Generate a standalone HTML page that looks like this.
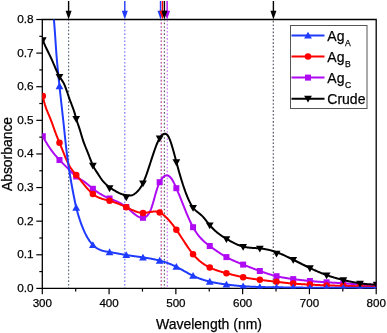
<!DOCTYPE html>
<html><head><meta charset="utf-8"><style>
html,body{margin:0;padding:0;background:#fff;}
body{width:387px;height:333px;position:relative;overflow:hidden;font-family:"Liberation Sans",sans-serif;color:#000;}
.t{position:absolute;left:0;top:0;width:387px;height:333px;will-change:transform;opacity:0.999;-webkit-text-stroke:0.25px #000;}
svg{position:absolute;left:0;top:0;}
.yl{position:absolute;left:0;width:33.6px;text-align:right;font-size:11.8px;line-height:13px;}
.xl{position:absolute;top:295.5px;width:40px;text-align:center;font-size:11.6px;line-height:13px;}
.lg{position:absolute;left:327.3px;font-size:14px;line-height:16px;}
.lg sub{font-size:8.6px;vertical-align:-5px;line-height:0;margin-left:0.5px;}
#xt{position:absolute;left:0;width:418px;top:316.3px;text-align:center;font-size:14px;line-height:16px;}
#yt{position:absolute;left:-43px;top:146px;width:100px;text-align:center;font-size:13.9px;line-height:16px;transform:rotate(-90deg);}
</style></head><body>
<svg width="387" height="333" viewBox="0 0 387 333">
<defs><clipPath id="clip"><rect x="42.3" y="19.5" width="333.9" height="268.9"/></clipPath></defs>
<line x1="68.6" y1="19.0" x2="68.6" y2="288.4" stroke="#606a80" stroke-width="1.2" stroke-dasharray="1.6,1.98" opacity="1"/>
<line x1="124.8" y1="19.0" x2="124.8" y2="288.4" stroke="#7777ff" stroke-width="1.2" stroke-dasharray="1.6,1.98" opacity="1"/>
<line x1="161.2" y1="19.0" x2="161.2" y2="288.4" stroke="#7777ff" stroke-width="1.2" stroke-dasharray="1.6,1.98" opacity="1"/>
<line x1="161.4" y1="19.0" x2="161.4" y2="288.4" stroke="#ff5050" stroke-width="1.2" stroke-dasharray="1.6,1.98" opacity="0.65"/>
<line x1="164.4" y1="19.0" x2="164.4" y2="288.4" stroke="#606468" stroke-width="1.2" stroke-dasharray="1.6,1.98" opacity="1"/>
<line x1="167.3" y1="20.2" x2="167.3" y2="288.4" stroke="#cc77ff" stroke-width="1.2" stroke-dasharray="1.6,1.98" opacity="1"/>
<line x1="273.3" y1="20.8" x2="273.3" y2="288.4" stroke="#505660" stroke-width="1.2" stroke-dasharray="1.6,1.98" opacity="1"/>
<path d="M42.3,19.5 H376.2 V288.4 H42.3 Z" fill="none" stroke="#000" stroke-width="1.3"/>
<g clip-path="url(#clip)">
<path d="M42.80,136.20 L43.30,137.15 L43.80,138.09 L44.30,139.01 L44.80,139.91 L45.30,140.79 L45.80,141.65 L46.30,142.50 L46.80,143.33 L47.30,144.15 L47.80,144.94 L48.30,145.73 L48.80,146.50 L49.30,147.25 L49.80,147.99 L50.30,148.71 L50.80,149.43 L51.30,150.12 L51.80,150.81 L52.30,151.48 L52.80,152.14 L53.30,152.79 L53.80,153.43 L54.30,154.05 L54.80,154.67 L55.30,155.28 L55.80,155.87 L56.30,156.46 L56.80,157.03 L57.30,157.60 L57.80,158.16 L58.30,158.71 L58.80,159.26 L59.30,159.79 L59.80,160.32 L60.30,160.85 L60.80,161.36 L61.30,161.87 L61.80,162.38 L62.30,162.89 L62.80,163.39 L63.30,163.89 L63.80,164.39 L64.30,164.88 L64.80,165.38 L65.30,165.88 L65.80,166.38 L66.30,166.88 L66.80,167.39 L67.30,167.90 L67.80,168.41 L68.30,168.93 L68.80,169.45 L69.30,169.97 L69.80,170.49 L70.30,171.00 L70.80,171.52 L71.30,172.03 L71.80,172.53 L72.30,173.03 L72.80,173.52 L73.30,173.99 L73.80,174.46 L74.30,174.92 L74.80,175.36 L75.30,175.78 L75.80,176.19 L76.30,176.58 L76.80,176.96 L77.30,177.32 L77.80,177.66 L78.30,177.99 L78.80,178.31 L79.30,178.63 L79.80,178.93 L80.30,179.24 L80.80,179.54 L81.30,179.84 L81.80,180.14 L82.30,180.45 L82.80,180.77 L83.30,181.09 L83.80,181.42 L84.30,181.77 L84.80,182.13 L85.30,182.50 L85.80,182.89 L86.30,183.28 L86.80,183.69 L87.30,184.10 L87.80,184.51 L88.30,184.94 L88.80,185.36 L89.30,185.79 L89.80,186.22 L90.30,186.64 L90.80,187.07 L91.30,187.49 L91.80,187.91 L92.30,188.33 L92.80,188.73 L93.30,189.13 L93.80,189.52 L94.30,189.90 L94.80,190.27 L95.30,190.64 L95.80,191.00 L96.30,191.35 L96.80,191.69 L97.30,192.03 L97.80,192.36 L98.30,192.68 L98.80,192.99 L99.30,193.30 L99.80,193.61 L100.30,193.90 L100.80,194.19 L101.30,194.48 L101.80,194.76 L102.30,195.03 L102.80,195.30 L103.30,195.56 L103.80,195.82 L104.30,196.07 L104.80,196.32 L105.30,196.57 L105.80,196.81 L106.30,197.04 L106.80,197.27 L107.30,197.50 L107.80,197.73 L108.30,197.95 L108.80,198.17 L109.30,198.38 L109.80,198.59 L110.30,198.80 L110.80,199.01 L111.30,199.21 L111.80,199.42 L112.30,199.62 L112.80,199.83 L113.30,200.03 L113.80,200.23 L114.30,200.44 L114.80,200.65 L115.30,200.86 L115.80,201.07 L116.30,201.28 L116.80,201.50 L117.30,201.73 L117.80,201.96 L118.30,202.19 L118.80,202.43 L119.30,202.67 L119.80,202.92 L120.30,203.18 L120.80,203.45 L121.30,203.72 L121.80,204.01 L122.30,204.30 L122.80,204.60 L123.30,204.91 L123.80,205.23 L124.30,205.57 L124.80,205.91 L125.30,206.27 L125.80,206.64 L126.30,207.02 L126.80,207.41 L127.30,207.82 L127.80,208.24 L128.30,208.66 L128.80,209.10 L129.30,209.53 L129.80,209.98 L130.30,210.42 L130.80,210.87 L131.30,211.31 L131.80,211.76 L132.30,212.19 L132.80,212.63 L133.30,213.05 L133.80,213.47 L134.30,213.88 L134.80,214.28 L135.30,214.66 L135.80,215.03 L136.30,215.39 L136.80,215.72 L137.30,216.04 L137.80,216.33 L138.30,216.61 L138.80,216.86 L139.30,217.08 L139.80,217.28 L140.30,217.45 L140.80,217.59 L141.30,217.69 L141.80,217.77 L142.30,217.81 L142.80,217.81 L143.30,217.77 L143.80,217.70 L144.30,217.57 L144.80,217.40 L145.30,217.17 L145.80,216.88 L146.30,216.52 L146.80,216.09 L147.30,215.59 L147.80,215.01 L148.30,214.34 L148.80,213.58 L149.30,212.73 L149.80,211.78 L150.30,210.73 L150.80,209.57 L151.30,208.29 L151.80,206.90 L152.30,205.38 L152.80,203.75 L153.30,202.03 L153.80,200.25 L154.30,198.43 L154.80,196.61 L155.30,194.81 L155.80,193.05 L156.30,191.37 L156.80,189.76 L157.30,188.23 L157.80,186.78 L158.30,185.42 L158.80,184.16 L159.30,182.99 L159.80,181.92 L160.30,180.96 L160.80,180.10 L161.30,179.32 L161.80,178.63 L162.30,178.02 L162.80,177.48 L163.30,177.00 L163.80,176.58 L164.30,176.22 L164.80,175.92 L165.30,175.68 L165.80,175.51 L166.30,175.41 L166.80,175.37 L167.30,175.41 L167.80,175.53 L168.30,175.72 L168.80,175.98 L169.30,176.32 L169.80,176.73 L170.30,177.22 L170.80,177.79 L171.30,178.43 L171.80,179.15 L172.30,179.94 L172.80,180.79 L173.30,181.70 L173.80,182.66 L174.30,183.67 L174.80,184.72 L175.30,185.81 L175.80,186.92 L176.30,188.06 L176.80,189.22 L177.30,190.39 L177.80,191.58 L178.30,192.78 L178.80,193.99 L179.30,195.21 L179.80,196.44 L180.30,197.68 L180.80,198.92 L181.30,200.17 L181.80,201.42 L182.30,202.67 L182.80,203.92 L183.30,205.17 L183.80,206.42 L184.30,207.66 L184.80,208.90 L185.30,210.13 L185.80,211.35 L186.30,212.56 L186.80,213.76 L187.30,214.95 L187.80,216.12 L188.30,217.28 L188.80,218.42 L189.30,219.54 L189.80,220.64 L190.30,221.71 L190.80,222.77 L191.30,223.80 L191.80,224.80 L192.30,225.78 L192.80,226.73 L193.30,227.65 L193.80,228.53 L194.30,229.39 L194.80,230.22 L195.30,231.02 L195.80,231.79 L196.30,232.54 L196.80,233.26 L197.30,233.96 L197.80,234.63 L198.30,235.28 L198.80,235.91 L199.30,236.52 L199.80,237.11 L200.30,237.68 L200.80,238.23 L201.30,238.76 L201.80,239.28 L202.30,239.78 L202.80,240.27 L203.30,240.74 L203.80,241.20 L204.30,241.65 L204.80,242.09 L205.30,242.51 L205.80,242.93 L206.30,243.34 L206.80,243.74 L207.30,244.13 L207.80,244.52 L208.30,244.91 L208.80,245.29 L209.30,245.66 L209.80,246.04 L210.30,246.41 L210.80,246.78 L211.30,247.15 L211.80,247.52 L212.30,247.88 L212.80,248.25 L213.30,248.61 L213.80,248.97 L214.30,249.33 L214.80,249.68 L215.30,250.04 L215.80,250.39 L216.30,250.73 L216.80,251.08 L217.30,251.42 L217.80,251.76 L218.30,252.10 L218.80,252.43 L219.30,252.76 L219.80,253.09 L220.30,253.41 L220.80,253.74 L221.30,254.05 L221.80,254.37 L222.30,254.68 L222.80,254.98 L223.30,255.29 L223.80,255.59 L224.30,255.88 L224.80,256.17 L225.30,256.46 L225.80,256.74 L226.30,257.02 L226.80,257.29 L227.30,257.56 L227.80,257.83 L228.30,258.09 L228.80,258.35 L229.30,258.60 L229.80,258.85 L230.30,259.10 L230.80,259.34 L231.30,259.58 L231.80,259.82 L232.30,260.05 L232.80,260.28 L233.30,260.51 L233.80,260.73 L234.30,260.95 L234.80,261.17 L235.30,261.39 L235.80,261.61 L236.30,261.82 L236.80,262.03 L237.30,262.24 L237.80,262.45 L238.30,262.65 L238.80,262.86 L239.30,263.06 L239.80,263.27 L240.30,263.47 L240.80,263.67 L241.30,263.87 L241.80,264.07 L242.30,264.27 L242.80,264.47 L243.30,264.66 L243.80,264.86 L244.30,265.06 L244.80,265.26 L245.30,265.45 L245.80,265.65 L246.30,265.85 L246.80,266.05 L247.30,266.24 L247.80,266.44 L248.30,266.63 L248.80,266.83 L249.30,267.02 L249.80,267.22 L250.30,267.41 L250.80,267.61 L251.30,267.80 L251.80,267.99 L252.30,268.18 L252.80,268.38 L253.30,268.57 L253.80,268.76 L254.30,268.95 L254.80,269.14 L255.30,269.33 L255.80,269.51 L256.30,269.70 L256.80,269.89 L257.30,270.07 L257.80,270.26 L258.30,270.44 L258.80,270.62 L259.30,270.81 L259.80,270.99 L260.30,271.17 L260.80,271.35 L261.30,271.53 L261.80,271.70 L262.30,271.88 L262.80,272.06 L263.30,272.23 L263.80,272.40 L264.30,272.57 L264.80,272.74 L265.30,272.91 L265.80,273.08 L266.30,273.24 L266.80,273.41 L267.30,273.57 L267.80,273.73 L268.30,273.89 L268.80,274.05 L269.30,274.20 L269.80,274.36 L270.30,274.51 L270.80,274.66 L271.30,274.80 L271.80,274.95 L272.30,275.09 L272.80,275.23 L273.30,275.37 L273.80,275.50 L274.30,275.64 L274.80,275.77 L275.30,275.90 L275.80,276.02 L276.30,276.14 L276.80,276.26 L277.30,276.38 L277.80,276.50 L278.30,276.61 L278.80,276.72 L279.30,276.83 L279.80,276.93 L280.30,277.03 L280.80,277.13 L281.30,277.23 L281.80,277.33 L282.30,277.42 L282.80,277.51 L283.30,277.60 L283.80,277.69 L284.30,277.78 L284.80,277.86 L285.30,277.95 L285.80,278.03 L286.30,278.11 L286.80,278.19 L287.30,278.26 L287.80,278.34 L288.30,278.42 L288.80,278.49 L289.30,278.56 L289.80,278.63 L290.30,278.70 L290.80,278.77 L291.30,278.84 L291.80,278.91 L292.30,278.98 L292.80,279.04 L293.30,279.11 L293.80,279.18 L294.30,279.24 L294.80,279.30 L295.30,279.37 L295.80,279.43 L296.30,279.50 L296.80,279.56 L297.30,279.62 L297.80,279.68 L298.30,279.74 L298.80,279.80 L299.30,279.86 L299.80,279.92 L300.30,279.98 L300.80,280.04 L301.30,280.09 L301.80,280.15 L302.30,280.21 L302.80,280.26 L303.30,280.32 L303.80,280.37 L304.30,280.43 L304.80,280.48 L305.30,280.54 L305.80,280.59 L306.30,280.64 L306.80,280.69 L307.30,280.74 L307.80,280.79 L308.30,280.84 L308.80,280.89 L309.30,280.94 L309.80,280.99 L310.30,281.04 L310.80,281.08 L311.30,281.13 L311.80,281.18 L312.30,281.22 L312.80,281.26 L313.30,281.31 L313.80,281.35 L314.30,281.40 L314.80,281.44 L315.30,281.48 L315.80,281.52 L316.30,281.56 L316.80,281.60 L317.30,281.64 L317.80,281.68 L318.30,281.72 L318.80,281.76 L319.30,281.80 L319.80,281.83 L320.30,281.87 L320.80,281.91 L321.30,281.94 L321.80,281.98 L322.30,282.02 L322.80,282.05 L323.30,282.08 L323.80,282.12 L324.30,282.15 L324.80,282.18 L325.30,282.22 L325.80,282.25 L326.30,282.28 L326.80,282.31 L327.30,282.34 L327.80,282.37 L328.30,282.40 L328.80,282.43 L329.30,282.46 L329.80,282.49 L330.30,282.52 L330.80,282.55 L331.30,282.58 L331.80,282.61 L332.30,282.64 L332.80,282.66 L333.30,282.69 L333.80,282.72 L334.30,282.75 L334.80,282.78 L335.30,282.81 L335.80,282.83 L336.30,282.86 L336.80,282.89 L337.30,282.92 L337.80,282.95 L338.30,282.98 L338.80,283.01 L339.30,283.04 L339.80,283.07 L340.30,283.10 L340.80,283.13 L341.30,283.17 L341.80,283.20 L342.30,283.23 L342.80,283.27 L343.30,283.30 L343.80,283.33 L344.30,283.37 L344.80,283.40 L345.30,283.44 L345.80,283.48 L346.30,283.51 L346.80,283.55 L347.30,283.59 L347.80,283.63 L348.30,283.67 L348.80,283.71 L349.30,283.75 L349.80,283.78 L350.30,283.82 L350.80,283.86 L351.30,283.90 L351.80,283.94 L352.30,283.99 L352.80,284.03 L353.30,284.07 L353.80,284.11 L354.30,284.15 L354.80,284.19 L355.30,284.23 L355.80,284.27 L356.30,284.31 L356.80,284.35 L357.30,284.39 L357.80,284.43 L358.30,284.47 L358.80,284.51 L359.30,284.55 L359.80,284.58 L360.30,284.62 L360.80,284.66 L361.30,284.70 L361.80,284.73 L362.30,284.77 L362.80,284.81 L363.30,284.84 L363.80,284.88 L364.30,284.91 L364.80,284.95 L365.30,284.98 L365.80,285.01 L366.30,285.04 L366.80,285.07 L367.30,285.11 L367.80,285.13 L368.30,285.16 L368.80,285.19 L369.30,285.22 L369.80,285.24 L370.30,285.27 L370.80,285.29 L371.30,285.32 L371.80,285.34 L372.30,285.36 L372.80,285.38 L373.30,285.40 L373.80,285.42 L374.30,285.44 L374.80,285.45 L375.30,285.47 L375.80,285.48 L376.30,285.49 L376.70,285.50" fill="none" stroke="#b00af5" stroke-width="2.0" stroke-linejoin="round" stroke-linecap="round"/>
<rect x="39.80" y="133.20" width="6" height="6" fill="#b00af5"/>
<rect x="56.49" y="157.00" width="6" height="6" fill="#b00af5"/>
<rect x="73.19" y="173.50" width="6" height="6" fill="#b00af5"/>
<rect x="89.88" y="185.80" width="6" height="6" fill="#b00af5"/>
<rect x="106.58" y="195.50" width="6" height="6" fill="#b00af5"/>
<rect x="123.27" y="204.00" width="6" height="6" fill="#b00af5"/>
<rect x="139.97" y="214.80" width="6" height="6" fill="#b00af5"/>
<rect x="156.66" y="179.20" width="6" height="6" fill="#b00af5"/>
<rect x="173.36" y="185.20" width="6" height="6" fill="#b00af5"/>
<rect x="190.06" y="224.20" width="6" height="6" fill="#b00af5"/>
<rect x="206.75" y="243.00" width="6" height="6" fill="#b00af5"/>
<rect x="223.44" y="254.10" width="6" height="6" fill="#b00af5"/>
<rect x="240.14" y="261.60" width="6" height="6" fill="#b00af5"/>
<rect x="256.83" y="268.00" width="6" height="6" fill="#b00af5"/>
<rect x="273.53" y="273.20" width="6" height="6" fill="#b00af5"/>
<rect x="290.22" y="276.10" width="6" height="6" fill="#b00af5"/>
<rect x="306.92" y="278.00" width="6" height="6" fill="#b00af5"/>
<rect x="323.62" y="279.30" width="6" height="6" fill="#b00af5"/>
<rect x="340.31" y="280.30" width="6" height="6" fill="#b00af5"/>
<rect x="357.00" y="281.60" width="6" height="6" fill="#b00af5"/>
<rect x="373.70" y="282.50" width="6" height="6" fill="#b00af5"/>
<path d="M42.80,96.00 L43.30,98.34 L43.80,100.48 L44.30,102.44 L44.80,104.24 L45.30,105.89 L45.80,107.42 L46.30,108.84 L46.80,110.17 L47.30,111.43 L47.80,112.64 L48.30,113.81 L48.80,114.96 L49.30,116.12 L49.80,117.29 L50.30,118.50 L50.80,119.76 L51.30,121.07 L51.80,122.41 L52.30,123.78 L52.80,125.18 L53.30,126.58 L53.80,127.99 L54.30,129.40 L54.80,130.79 L55.30,132.16 L55.80,133.50 L56.30,134.80 L56.80,136.08 L57.30,137.33 L57.80,138.56 L58.30,139.78 L58.80,141.00 L59.30,142.22 L59.80,143.45 L60.30,144.70 L60.80,145.95 L61.30,147.21 L61.80,148.47 L62.30,149.73 L62.80,150.99 L63.30,152.24 L63.80,153.48 L64.30,154.71 L64.80,155.92 L65.30,157.11 L65.80,158.27 L66.30,159.42 L66.80,160.53 L67.30,161.61 L67.80,162.65 L68.30,163.66 L68.80,164.63 L69.30,165.55 L69.80,166.42 L70.30,167.24 L70.80,168.03 L71.30,168.77 L71.80,169.48 L72.30,170.16 L72.80,170.82 L73.30,171.45 L73.80,172.07 L74.30,172.67 L74.80,173.26 L75.30,173.85 L75.80,174.44 L76.30,175.03 L76.80,175.63 L77.30,176.23 L77.80,176.84 L78.30,177.46 L78.80,178.07 L79.30,178.69 L79.80,179.32 L80.30,179.94 L80.80,180.57 L81.30,181.20 L81.80,181.82 L82.30,182.45 L82.80,183.07 L83.30,183.69 L83.80,184.31 L84.30,184.92 L84.80,185.53 L85.30,186.14 L85.80,186.73 L86.30,187.32 L86.80,187.90 L87.30,188.48 L87.80,189.04 L88.30,189.59 L88.80,190.13 L89.30,190.66 L89.80,191.18 L90.30,191.68 L90.80,192.16 L91.30,192.63 L91.80,193.08 L92.30,193.52 L92.80,193.93 L93.30,194.33 L93.80,194.70 L94.30,195.06 L94.80,195.40 L95.30,195.73 L95.80,196.03 L96.30,196.32 L96.80,196.60 L97.30,196.86 L97.80,197.11 L98.30,197.35 L98.80,197.57 L99.30,197.78 L99.80,197.98 L100.30,198.17 L100.80,198.36 L101.30,198.53 L101.80,198.70 L102.30,198.85 L102.80,199.01 L103.30,199.15 L103.80,199.30 L104.30,199.43 L104.80,199.57 L105.30,199.70 L105.80,199.83 L106.30,199.95 L106.80,200.08 L107.30,200.21 L107.80,200.33 L108.30,200.46 L108.80,200.59 L109.30,200.72 L109.80,200.86 L110.30,201.00 L110.80,201.15 L111.30,201.29 L111.80,201.45 L112.30,201.60 L112.80,201.76 L113.30,201.92 L113.80,202.09 L114.30,202.26 L114.80,202.43 L115.30,202.61 L115.80,202.79 L116.30,202.97 L116.80,203.16 L117.30,203.34 L117.80,203.54 L118.30,203.73 L118.80,203.93 L119.30,204.13 L119.80,204.33 L120.30,204.54 L120.80,204.75 L121.30,204.96 L121.80,205.18 L122.30,205.39 L122.80,205.61 L123.30,205.83 L123.80,206.06 L124.30,206.28 L124.80,206.51 L125.30,206.74 L125.80,206.98 L126.30,207.21 L126.80,207.45 L127.30,207.69 L127.80,207.93 L128.30,208.17 L128.80,208.41 L129.30,208.65 L129.80,208.88 L130.30,209.12 L130.80,209.35 L131.30,209.59 L131.80,209.81 L132.30,210.04 L132.80,210.26 L133.30,210.47 L133.80,210.68 L134.30,210.88 L134.80,211.08 L135.30,211.27 L135.80,211.45 L136.30,211.63 L136.80,211.79 L137.30,211.95 L137.80,212.09 L138.30,212.23 L138.80,212.35 L139.30,212.47 L139.80,212.57 L140.30,212.66 L140.80,212.73 L141.30,212.80 L141.80,212.84 L142.30,212.88 L142.80,212.90 L143.30,212.90 L143.80,212.89 L144.30,212.86 L144.80,212.83 L145.30,212.78 L145.80,212.72 L146.30,212.65 L146.80,212.58 L147.30,212.50 L147.80,212.42 L148.30,212.33 L148.80,212.24 L149.30,212.15 L149.80,212.06 L150.30,211.98 L150.80,211.90 L151.30,211.82 L151.80,211.75 L152.30,211.69 L152.80,211.63 L153.30,211.59 L153.80,211.56 L154.30,211.54 L154.80,211.53 L155.30,211.54 L155.80,211.57 L156.30,211.62 L156.80,211.68 L157.30,211.77 L157.80,211.88 L158.30,212.01 L158.80,212.17 L159.30,212.35 L159.80,212.56 L160.30,212.80 L160.80,213.06 L161.30,213.36 L161.80,213.67 L162.30,214.01 L162.80,214.38 L163.30,214.76 L163.80,215.17 L164.30,215.59 L164.80,216.04 L165.30,216.50 L165.80,216.98 L166.30,217.47 L166.80,217.98 L167.30,218.49 L167.80,219.03 L168.30,219.57 L168.80,220.12 L169.30,220.69 L169.80,221.27 L170.30,221.85 L170.80,222.45 L171.30,223.06 L171.80,223.68 L172.30,224.31 L172.80,224.95 L173.30,225.60 L173.80,226.26 L174.30,226.93 L174.80,227.61 L175.30,228.31 L175.80,229.00 L176.30,229.71 L176.80,230.43 L177.30,231.16 L177.80,231.89 L178.30,232.64 L178.80,233.39 L179.30,234.14 L179.80,234.90 L180.30,235.66 L180.80,236.43 L181.30,237.20 L181.80,237.97 L182.30,238.74 L182.80,239.51 L183.30,240.28 L183.80,241.05 L184.30,241.82 L184.80,242.59 L185.30,243.35 L185.80,244.11 L186.30,244.87 L186.80,245.61 L187.30,246.36 L187.80,247.09 L188.30,247.82 L188.80,248.54 L189.30,249.25 L189.80,249.95 L190.30,250.63 L190.80,251.31 L191.30,251.98 L191.80,252.63 L192.30,253.27 L192.80,253.89 L193.30,254.50 L193.80,255.09 L194.30,255.67 L194.80,256.23 L195.30,256.77 L195.80,257.31 L196.30,257.83 L196.80,258.33 L197.30,258.82 L197.80,259.30 L198.30,259.77 L198.80,260.22 L199.30,260.66 L199.80,261.09 L200.30,261.50 L200.80,261.91 L201.30,262.30 L201.80,262.68 L202.30,263.05 L202.80,263.41 L203.30,263.76 L203.80,264.10 L204.30,264.43 L204.80,264.76 L205.30,265.07 L205.80,265.37 L206.30,265.67 L206.80,265.96 L207.30,266.24 L207.80,266.51 L208.30,266.77 L208.80,267.03 L209.30,267.28 L209.80,267.52 L210.30,267.76 L210.80,267.99 L211.30,268.22 L211.80,268.44 L212.30,268.66 L212.80,268.87 L213.30,269.07 L213.80,269.27 L214.30,269.46 L214.80,269.65 L215.30,269.84 L215.80,270.02 L216.30,270.20 L216.80,270.37 L217.30,270.54 L217.80,270.71 L218.30,270.87 L218.80,271.03 L219.30,271.19 L219.80,271.34 L220.30,271.49 L220.80,271.64 L221.30,271.79 L221.80,271.93 L222.30,272.07 L222.80,272.21 L223.30,272.35 L223.80,272.49 L224.30,272.63 L224.80,272.76 L225.30,272.90 L225.80,273.03 L226.30,273.16 L226.80,273.29 L227.30,273.43 L227.80,273.56 L228.30,273.69 L228.80,273.82 L229.30,273.95 L229.80,274.08 L230.30,274.21 L230.80,274.34 L231.30,274.47 L231.80,274.59 L232.30,274.72 L232.80,274.85 L233.30,274.97 L233.80,275.10 L234.30,275.22 L234.80,275.34 L235.30,275.46 L235.80,275.58 L236.30,275.70 L236.80,275.82 L237.30,275.94 L237.80,276.05 L238.30,276.17 L238.80,276.28 L239.30,276.39 L239.80,276.50 L240.30,276.61 L240.80,276.72 L241.30,276.82 L241.80,276.93 L242.30,277.03 L242.80,277.13 L243.30,277.23 L243.80,277.33 L244.30,277.43 L244.80,277.52 L245.30,277.61 L245.80,277.70 L246.30,277.79 L246.80,277.88 L247.30,277.97 L247.80,278.06 L248.30,278.14 L248.80,278.22 L249.30,278.30 L249.80,278.38 L250.30,278.46 L250.80,278.54 L251.30,278.62 L251.80,278.69 L252.30,278.77 L252.80,278.84 L253.30,278.92 L253.80,278.99 L254.30,279.06 L254.80,279.13 L255.30,279.20 L255.80,279.27 L256.30,279.34 L256.80,279.40 L257.30,279.47 L257.80,279.54 L258.30,279.60 L258.80,279.67 L259.30,279.73 L259.80,279.80 L260.30,279.86 L260.80,279.92 L261.30,279.99 L261.80,280.05 L262.30,280.11 L262.80,280.17 L263.30,280.23 L263.80,280.29 L264.30,280.36 L264.80,280.42 L265.30,280.48 L265.80,280.54 L266.30,280.60 L266.80,280.66 L267.30,280.72 L267.80,280.77 L268.30,280.83 L268.80,280.89 L269.30,280.95 L269.80,281.01 L270.30,281.07 L270.80,281.13 L271.30,281.19 L271.80,281.25 L272.30,281.30 L272.80,281.36 L273.30,281.42 L273.80,281.48 L274.30,281.54 L274.80,281.60 L275.30,281.66 L275.80,281.71 L276.30,281.77 L276.80,281.83 L277.30,281.89 L277.80,281.95 L278.30,282.01 L278.80,282.07 L279.30,282.13 L279.80,282.19 L280.30,282.25 L280.80,282.30 L281.30,282.36 L281.80,282.42 L282.30,282.48 L282.80,282.54 L283.30,282.59 L283.80,282.65 L284.30,282.71 L284.80,282.76 L285.30,282.82 L285.80,282.87 L286.30,282.93 L286.80,282.98 L287.30,283.03 L287.80,283.09 L288.30,283.14 L288.80,283.19 L289.30,283.24 L289.80,283.29 L290.30,283.34 L290.80,283.38 L291.30,283.43 L291.80,283.48 L292.30,283.52 L292.80,283.56 L293.30,283.61 L293.80,283.65 L294.30,283.69 L294.80,283.73 L295.30,283.76 L295.80,283.80 L296.30,283.84 L296.80,283.87 L297.30,283.91 L297.80,283.94 L298.30,283.97 L298.80,284.00 L299.30,284.03 L299.80,284.06 L300.30,284.09 L300.80,284.12 L301.30,284.15 L301.80,284.18 L302.30,284.21 L302.80,284.24 L303.30,284.26 L303.80,284.29 L304.30,284.31 L304.80,284.34 L305.30,284.37 L305.80,284.39 L306.30,284.42 L306.80,284.44 L307.30,284.47 L307.80,284.49 L308.30,284.52 L308.80,284.54 L309.30,284.57 L309.80,284.59 L310.30,284.62 L310.80,284.65 L311.30,284.67 L311.80,284.70 L312.30,284.72 L312.80,284.75 L313.30,284.78 L313.80,284.80 L314.30,284.83 L314.80,284.85 L315.30,284.88 L315.80,284.91 L316.30,284.93 L316.80,284.96 L317.30,284.98 L317.80,285.01 L318.30,285.03 L318.80,285.06 L319.30,285.08 L319.80,285.11 L320.30,285.13 L320.80,285.16 L321.30,285.18 L321.80,285.20 L322.30,285.23 L322.80,285.25 L323.30,285.27 L323.80,285.29 L324.30,285.31 L324.80,285.33 L325.30,285.35 L325.80,285.37 L326.30,285.39 L326.80,285.41 L327.30,285.42 L327.80,285.44 L328.30,285.46 L328.80,285.47 L329.30,285.49 L329.80,285.50 L330.30,285.51 L330.80,285.53 L331.30,285.54 L331.80,285.55 L332.30,285.57 L332.80,285.58 L333.30,285.59 L333.80,285.60 L334.30,285.61 L334.80,285.62 L335.30,285.63 L335.80,285.64 L336.30,285.65 L336.80,285.66 L337.30,285.67 L337.80,285.68 L338.30,285.69 L338.80,285.70 L339.30,285.71 L339.80,285.72 L340.30,285.73 L340.80,285.74 L341.30,285.76 L341.80,285.77 L342.30,285.78 L342.80,285.79 L343.30,285.80 L343.80,285.81 L344.30,285.82 L344.80,285.84 L345.30,285.85 L345.80,285.86 L346.30,285.87 L346.80,285.89 L347.30,285.90 L347.80,285.92 L348.30,285.93 L348.80,285.94 L349.30,285.96 L349.80,285.97 L350.30,285.99 L350.80,286.00 L351.30,286.02 L351.80,286.03 L352.30,286.05 L352.80,286.06 L353.30,286.08 L353.80,286.10 L354.30,286.11 L354.80,286.13 L355.30,286.14 L355.80,286.16 L356.30,286.18 L356.80,286.19 L357.30,286.21 L357.80,286.23 L358.30,286.24 L358.80,286.26 L359.30,286.28 L359.80,286.29 L360.30,286.31 L360.80,286.33 L361.30,286.34 L361.80,286.36 L362.30,286.38 L362.80,286.39 L363.30,286.41 L363.80,286.43 L364.30,286.44 L364.80,286.46 L365.30,286.47 L365.80,286.49 L366.30,286.51 L366.80,286.52 L367.30,286.54 L367.80,286.55 L368.30,286.57 L368.80,286.58 L369.30,286.60 L369.80,286.61 L370.30,286.63 L370.80,286.64 L371.30,286.66 L371.80,286.67 L372.30,286.69 L372.80,286.70 L373.30,286.71 L373.80,286.73 L374.30,286.74 L374.80,286.75 L375.30,286.77 L375.80,286.78 L376.30,286.79 L376.70,286.80" fill="none" stroke="#ff0000" stroke-width="2.0" stroke-linejoin="round" stroke-linecap="round"/>
<circle cx="42.80" cy="96.00" r="3.25" fill="#ff0000"/>
<circle cx="59.49" cy="142.70" r="3.25" fill="#ff0000"/>
<circle cx="76.19" cy="174.90" r="3.25" fill="#ff0000"/>
<circle cx="92.88" cy="194.00" r="3.25" fill="#ff0000"/>
<circle cx="109.58" cy="200.80" r="3.25" fill="#ff0000"/>
<circle cx="126.27" cy="207.20" r="3.25" fill="#ff0000"/>
<circle cx="142.97" cy="212.90" r="3.25" fill="#ff0000"/>
<circle cx="159.66" cy="212.50" r="3.25" fill="#ff0000"/>
<circle cx="176.36" cy="229.80" r="3.25" fill="#ff0000"/>
<circle cx="193.06" cy="254.20" r="3.25" fill="#ff0000"/>
<circle cx="209.75" cy="267.50" r="3.25" fill="#ff0000"/>
<circle cx="226.44" cy="273.20" r="3.25" fill="#ff0000"/>
<circle cx="243.14" cy="277.20" r="3.25" fill="#ff0000"/>
<circle cx="259.83" cy="279.80" r="3.25" fill="#ff0000"/>
<circle cx="276.53" cy="281.80" r="3.25" fill="#ff0000"/>
<circle cx="293.22" cy="283.60" r="3.25" fill="#ff0000"/>
<circle cx="309.92" cy="284.60" r="3.25" fill="#ff0000"/>
<circle cx="326.62" cy="285.40" r="3.25" fill="#ff0000"/>
<circle cx="343.31" cy="285.80" r="3.25" fill="#ff0000"/>
<circle cx="360.00" cy="286.30" r="3.25" fill="#ff0000"/>
<circle cx="376.70" cy="286.80" r="3.25" fill="#ff0000"/>
<path d="M44.30,-60.00 L44.45,-59.00 L44.60,-58.00 L44.75,-57.00 L44.90,-56.00 L45.05,-55.00 L45.20,-54.00 L45.34,-53.00 L45.49,-52.00 L45.63,-51.00 L45.78,-50.00 L45.92,-49.00 L46.06,-48.00 L46.21,-47.00 L46.35,-46.00 L46.49,-45.00 L46.63,-44.00 L46.77,-43.00 L46.91,-42.00 L47.04,-41.00 L47.18,-40.00 L47.32,-39.00 L47.45,-38.00 L47.58,-37.00 L47.72,-36.00 L47.85,-35.00 L47.98,-34.00 L48.11,-33.00 L48.24,-32.00 L48.37,-31.00 L48.50,-30.00 L48.63,-29.00 L48.76,-28.00 L48.88,-27.00 L49.01,-26.00 L49.14,-25.00 L49.26,-24.00 L49.38,-23.00 L49.51,-22.00 L49.63,-21.00 L49.75,-20.00 L49.87,-19.00 L49.99,-18.00 L50.11,-17.00 L50.22,-16.00 L50.34,-15.00 L50.46,-14.00 L50.57,-13.00 L50.69,-12.00 L50.80,-11.00 L50.92,-10.00 L51.03,-9.00 L51.14,-8.00 L51.25,-7.00 L51.36,-6.00 L51.47,-5.00 L51.58,-4.00 L51.69,-3.00 L51.79,-2.00 L51.90,-1.00 L52.00,0.00 L52.11,1.00 L52.21,2.00 L52.32,3.00 L52.42,4.00 L52.52,5.00 L52.62,6.00 L52.72,7.00 L52.82,8.00 L52.92,9.00 L53.01,10.00 L53.11,11.00 L53.21,12.00 L53.30,13.00 L53.40,14.00 L53.49,15.00 L53.58,16.00 L53.67,17.00 L53.76,18.00 L53.86,19.00 L53.94,20.00 L54.03,21.00 L54.12,22.00 L54.20,23.00 L54.28,24.00 L54.36,25.00 L54.44,26.00 L54.52,27.00 L54.59,28.00 L54.67,29.00 L54.74,30.00 L54.82,31.00 L54.89,32.00 L54.96,33.00 L55.03,34.00 L55.10,35.00 L55.16,36.00 L55.23,37.00 L55.30,38.00 L55.37,39.00 L55.44,40.00 L55.50,41.00 L55.57,42.00 L55.64,43.00 L55.71,44.00 L55.77,45.00 L55.84,46.00 L55.91,47.00 L55.98,48.00 L56.05,49.00 L56.12,50.00 L56.19,51.00 L56.27,52.00 L56.34,53.00 L56.42,54.00 L56.49,55.00 L56.57,56.00 L56.65,57.00 L56.73,58.00 L56.82,59.00 L56.90,60.00 L56.99,61.00 L57.07,62.00 L57.16,63.00 L57.26,64.00 L57.35,65.00 L57.44,66.00 L57.54,67.00 L57.64,68.00 L57.73,69.00 L57.83,70.00 L57.93,71.00 L58.03,72.00 L58.13,73.00 L58.24,74.00 L58.34,75.00 L58.44,76.00 L58.54,77.00 L58.65,78.00 L58.75,79.00 L58.86,80.00 L58.96,81.00 L59.07,82.00 L59.17,83.00 L59.28,84.00 L59.38,85.00 L59.48,86.00 L59.59,87.00 L59.69,88.00 L59.80,89.00 L59.90,90.00 L60.01,91.00 L60.12,92.00 L60.22,93.00 L60.33,94.00 L60.44,95.00 L60.55,96.00 L60.66,97.00 L60.76,98.00 L60.87,99.00 L60.98,100.00 L61.09,101.00 L61.20,102.00 L61.31,103.00 L61.42,104.00 L61.53,105.00 L61.64,106.00 L61.76,107.00 L61.87,108.00 L61.98,109.00 L62.09,110.00 L62.20,111.00 L62.31,112.00 L62.42,113.00 L62.53,114.00 L62.64,115.00 L62.76,116.00 L62.87,117.00 L62.98,118.00 L63.09,119.00 L63.20,120.00 L63.31,121.00 L63.42,122.00 L63.53,123.00 L63.64,124.00 L63.74,125.00 L63.85,126.00 L63.95,127.00 L64.06,128.00 L64.16,129.00 L64.27,130.00 L64.37,131.00 L64.48,132.00 L64.58,133.00 L64.69,134.00 L64.79,135.00 L64.90,136.00 L65.00,137.00 L65.11,138.00 L65.21,139.00 L65.32,140.00 L65.43,141.00 L65.53,142.00 L65.64,143.00 L65.75,144.00 L65.86,145.00 L65.97,146.00 L66.09,147.00 L66.20,148.00 L66.32,149.00 L66.43,150.00 L66.55,151.00 L66.67,152.00 L66.79,153.00 L66.92,154.00 L67.04,155.00 L67.17,156.00 L67.30,157.00 L67.43,158.00 L67.56,159.00 L67.70,160.00 L67.84,161.00 L67.98,162.00 L68.12,163.00 L68.26,164.00 L68.41,165.00 L68.56,166.00 L68.71,167.00 L68.86,168.00 L69.01,169.00 L69.17,170.00 L69.32,171.00 L69.48,172.00 L69.64,173.00 L69.81,174.00 L69.97,175.00 L70.13,176.00 L70.30,177.00 L70.47,178.00 L70.64,179.00 L70.82,180.00 L70.99,181.00 L71.17,182.00 L71.34,183.00 L71.52,184.00 L71.70,185.00 L71.89,186.00 L72.07,187.00 L72.26,188.00 L72.44,189.00 L72.63,190.00 L72.82,191.00 L73.01,192.00 L73.21,193.00 L73.40,194.00 L73.60,195.00 L73.80,196.00 L73.99,197.00 L74.19,198.00 L74.40,199.00 L74.60,200.00 L74.81,201.00 L75.01,202.00 L75.22,203.00 L75.43,204.00 L75.64,205.00 L75.85,206.00 L76.06,207.00 L76.19,207.60 L76.69,209.45 L77.19,211.26 L77.69,213.00 L78.19,214.70 L78.69,216.34 L79.19,217.93 L79.69,219.47 L80.19,220.96 L80.69,222.41 L81.19,223.80 L81.69,225.15 L82.19,226.45 L82.69,227.71 L83.19,228.92 L83.69,230.09 L84.19,231.22 L84.69,232.31 L85.19,233.35 L85.69,234.36 L86.19,235.32 L86.69,236.25 L87.19,237.14 L87.69,237.99 L88.19,238.81 L88.69,239.59 L89.19,240.34 L89.69,241.06 L90.19,241.74 L90.69,242.39 L91.19,243.01 L91.69,243.60 L92.19,244.17 L92.69,244.70 L93.19,245.21 L93.69,245.69 L94.19,246.14 L94.69,246.57 L95.19,246.97 L95.69,247.36 L96.19,247.72 L96.69,248.06 L97.19,248.37 L97.69,248.67 L98.19,248.95 L98.69,249.21 L99.19,249.46 L99.69,249.68 L100.19,249.90 L100.69,250.09 L101.19,250.28 L101.69,250.45 L102.19,250.61 L102.69,250.76 L103.19,250.89 L103.69,251.02 L104.19,251.14 L104.69,251.25 L105.19,251.36 L105.69,251.45 L106.19,251.55 L106.69,251.64 L107.19,251.72 L107.69,251.80 L108.19,251.88 L108.69,251.96 L109.19,252.04 L109.69,252.12 L110.19,252.20 L110.69,252.28 L111.19,252.36 L111.69,252.44 L112.19,252.53 L112.69,252.61 L113.19,252.70 L113.69,252.79 L114.19,252.88 L114.69,252.96 L115.19,253.05 L115.69,253.14 L116.19,253.23 L116.69,253.32 L117.19,253.41 L117.69,253.50 L118.19,253.59 L118.69,253.68 L119.19,253.77 L119.69,253.86 L120.19,253.95 L120.69,254.04 L121.19,254.13 L121.69,254.22 L122.19,254.31 L122.69,254.39 L123.19,254.48 L123.69,254.57 L124.19,254.65 L124.69,254.74 L125.19,254.82 L125.69,254.90 L126.19,254.99 L126.69,255.07 L127.19,255.15 L127.69,255.22 L128.19,255.30 L128.69,255.38 L129.19,255.45 L129.69,255.53 L130.19,255.60 L130.69,255.68 L131.19,255.75 L131.69,255.82 L132.19,255.89 L132.69,255.96 L133.19,256.03 L133.69,256.10 L134.19,256.17 L134.69,256.24 L135.19,256.31 L135.69,256.38 L136.19,256.45 L136.69,256.52 L137.19,256.59 L137.69,256.66 L138.19,256.73 L138.69,256.80 L139.19,256.86 L139.69,256.93 L140.19,257.00 L140.69,257.07 L141.19,257.14 L141.69,257.22 L142.19,257.29 L142.69,257.36 L143.19,257.43 L143.69,257.51 L144.19,257.58 L144.69,257.65 L145.19,257.73 L145.69,257.81 L146.19,257.89 L146.69,257.96 L147.19,258.04 L147.69,258.13 L148.19,258.21 L148.69,258.29 L149.19,258.38 L149.69,258.46 L150.19,258.55 L150.69,258.64 L151.19,258.73 L151.69,258.83 L152.19,258.92 L152.69,259.02 L153.19,259.12 L153.69,259.22 L154.19,259.32 L154.69,259.43 L155.19,259.53 L155.69,259.64 L156.19,259.76 L156.69,259.87 L157.19,259.99 L157.69,260.10 L158.19,260.23 L158.69,260.35 L159.19,260.48 L159.69,260.61 L160.19,260.74 L160.69,260.87 L161.19,261.01 L161.69,261.15 L162.19,261.30 L162.69,261.44 L163.19,261.59 L163.69,261.75 L164.19,261.90 L164.69,262.06 L165.19,262.23 L165.69,262.39 L166.19,262.56 L166.69,262.73 L167.19,262.91 L167.69,263.09 L168.19,263.27 L168.69,263.46 L169.19,263.65 L169.69,263.84 L170.19,264.04 L170.69,264.24 L171.19,264.45 L171.69,264.66 L172.19,264.87 L172.69,265.09 L173.19,265.31 L173.69,265.53 L174.19,265.76 L174.69,265.99 L175.19,266.23 L175.69,266.47 L176.19,266.72 L176.69,266.96 L177.19,267.22 L177.69,267.48 L178.19,267.74 L178.69,268.00 L179.19,268.27 L179.69,268.54 L180.19,268.81 L180.69,269.08 L181.19,269.36 L181.69,269.64 L182.19,269.92 L182.69,270.20 L183.19,270.48 L183.69,270.76 L184.19,271.04 L184.69,271.32 L185.19,271.61 L185.69,271.89 L186.19,272.17 L186.69,272.45 L187.19,272.73 L187.69,273.00 L188.19,273.28 L188.69,273.55 L189.19,273.82 L189.69,274.09 L190.19,274.35 L190.69,274.61 L191.19,274.87 L191.69,275.13 L192.19,275.38 L192.69,275.62 L193.19,275.86 L193.69,276.10 L194.19,276.33 L194.69,276.56 L195.19,276.78 L195.69,277.00 L196.19,277.22 L196.69,277.43 L197.19,277.63 L197.69,277.83 L198.19,278.03 L198.69,278.23 L199.19,278.41 L199.69,278.60 L200.19,278.78 L200.69,278.96 L201.19,279.13 L201.69,279.30 L202.19,279.47 L202.69,279.63 L203.19,279.79 L203.69,279.95 L204.19,280.10 L204.69,280.25 L205.19,280.40 L205.69,280.54 L206.19,280.68 L206.69,280.82 L207.19,280.96 L207.69,281.09 L208.19,281.22 L208.69,281.34 L209.19,281.46 L209.69,281.59 L210.19,281.70 L210.69,281.82 L211.19,281.93 L211.69,282.04 L212.19,282.15 L212.69,282.26 L213.19,282.36 L213.69,282.47 L214.19,282.56 L214.69,282.66 L215.19,282.76 L215.69,282.85 L216.19,282.94 L216.69,283.03 L217.19,283.12 L217.69,283.21 L218.19,283.29 L218.69,283.38 L219.19,283.46 L219.69,283.54 L220.19,283.62 L220.69,283.70 L221.19,283.77 L221.69,283.85 L222.19,283.92 L222.69,283.99 L223.19,284.06 L223.69,284.13 L224.19,284.20 L224.69,284.27 L225.19,284.34 L225.69,284.40 L226.19,284.47 L226.69,284.53 L227.19,284.60 L227.69,284.66 L228.19,284.72 L228.69,284.78 L229.19,284.84 L229.69,284.90 L230.19,284.96 L230.69,285.02 L231.19,285.08 L231.69,285.13 L232.19,285.19 L232.69,285.24 L233.19,285.30 L233.69,285.35 L234.19,285.40 L234.69,285.46 L235.19,285.51 L235.69,285.56 L236.19,285.61 L236.69,285.65 L237.19,285.70 L237.69,285.75 L238.19,285.79 L238.69,285.84 L239.19,285.88 L239.69,285.93 L240.19,285.97 L240.69,286.01 L241.19,286.05 L241.69,286.09 L242.19,286.13 L242.69,286.17 L243.19,286.20 L243.69,286.24 L244.19,286.27 L244.69,286.31 L245.19,286.34 L245.69,286.37 L246.19,286.41 L246.69,286.44 L247.19,286.47 L247.69,286.50 L248.19,286.53 L248.69,286.55 L249.19,286.58 L249.69,286.61 L250.19,286.63 L250.69,286.66 L251.19,286.68 L251.69,286.70 L252.19,286.73 L252.69,286.75 L253.19,286.77 L253.69,286.79 L254.19,286.81 L254.69,286.83 L255.19,286.85 L255.69,286.87 L256.19,286.89 L256.69,286.90 L257.19,286.92 L257.69,286.94 L258.19,286.95 L258.69,286.97 L259.19,286.98 L259.69,287.00 L260.19,287.01 L260.69,287.02 L261.19,287.04 L261.69,287.05 L262.19,287.06 L262.69,287.07 L263.19,287.08 L263.69,287.10 L264.19,287.11 L264.69,287.12 L265.19,287.13 L265.69,287.14 L266.19,287.15 L266.69,287.16 L267.19,287.17 L267.69,287.17 L268.19,287.18 L268.69,287.19 L269.19,287.20 L269.69,287.21 L270.19,287.21 L270.69,287.22 L271.19,287.23 L271.69,287.24 L272.19,287.24 L272.69,287.25 L273.19,287.26 L273.69,287.26 L274.19,287.27 L274.69,287.28 L275.19,287.28 L275.69,287.29 L276.19,287.30 L276.69,287.30 L277.19,287.31 L277.69,287.31 L278.19,287.32 L278.69,287.33 L279.19,287.33 L279.69,287.34 L280.19,287.34 L280.69,287.35 L281.19,287.36 L281.69,287.36 L282.19,287.37 L282.69,287.37 L283.19,287.38 L283.69,287.39 L284.19,287.39 L284.69,287.40 L285.19,287.40 L285.69,287.41 L286.19,287.42 L286.69,287.42 L287.19,287.43 L287.69,287.43 L288.19,287.44 L288.69,287.44 L289.19,287.45 L289.69,287.46 L290.19,287.46 L290.69,287.47 L291.19,287.47 L291.69,287.48 L292.19,287.49 L292.69,287.49 L293.19,287.50 L293.69,287.51 L294.19,287.51 L294.69,287.52 L295.19,287.52 L295.69,287.53 L296.19,287.54 L296.69,287.54 L297.19,287.55 L297.69,287.56 L298.19,287.56 L298.69,287.57 L299.19,287.58 L299.69,287.58 L300.19,287.59 L300.69,287.59 L301.19,287.60 L301.69,287.61 L302.19,287.61 L302.69,287.62 L303.19,287.63 L303.69,287.63 L304.19,287.64 L304.69,287.64 L305.19,287.65 L305.69,287.65 L306.19,287.66 L306.69,287.67 L307.19,287.67 L307.69,287.68 L308.19,287.68 L308.69,287.69 L309.19,287.69 L309.69,287.70 L310.19,287.70 L310.69,287.71 L311.19,287.71 L311.69,287.72 L312.19,287.72 L312.69,287.73 L313.19,287.73 L313.69,287.73 L314.19,287.74 L314.69,287.74 L315.19,287.75 L315.69,287.75 L316.19,287.75 L316.69,287.76 L317.19,287.76 L317.69,287.76 L318.19,287.77 L318.69,287.77 L319.19,287.77 L319.69,287.77 L320.19,287.78 L320.69,287.78 L321.19,287.78 L321.69,287.78 L322.19,287.79 L322.69,287.79 L323.19,287.79 L323.69,287.79 L324.19,287.79 L324.69,287.79 L325.19,287.80 L325.69,287.80 L326.19,287.80 L326.69,287.80 L327.19,287.80 L327.69,287.80 L328.19,287.80 L328.69,287.80 L329.19,287.80 L329.69,287.80 L330.19,287.81 L330.69,287.81 L331.19,287.81 L331.69,287.81 L332.19,287.81 L332.69,287.81 L333.19,287.81 L333.69,287.81 L334.19,287.81 L334.69,287.81 L335.19,287.81 L335.69,287.81 L336.19,287.81 L336.69,287.80 L337.19,287.80 L337.69,287.80 L338.19,287.80 L338.69,287.80 L339.19,287.80 L339.69,287.80 L340.19,287.80 L340.69,287.80 L341.19,287.80 L341.69,287.80 L342.19,287.80 L342.69,287.80 L343.19,287.80 L343.69,287.80 L344.19,287.80 L344.69,287.80 L345.19,287.80 L345.69,287.80 L346.19,287.80 L346.69,287.80 L347.19,287.80 L347.69,287.80 L348.19,287.80 L348.69,287.80 L349.19,287.80 L349.69,287.80 L350.19,287.80 L350.69,287.80 L351.19,287.80 L351.69,287.80 L352.19,287.80 L352.69,287.80 L353.19,287.80 L353.69,287.80 L354.19,287.80 L354.69,287.80 L355.19,287.80 L355.69,287.80 L356.19,287.80 L356.69,287.80 L357.19,287.80 L357.69,287.80 L358.19,287.80 L358.69,287.80 L359.19,287.80 L359.69,287.80 L360.19,287.80 L360.69,287.80 L361.19,287.80 L361.69,287.80 L362.19,287.80 L362.69,287.80 L363.19,287.80 L363.69,287.80 L364.19,287.80 L364.69,287.80 L365.19,287.80 L365.69,287.80 L366.19,287.80 L366.69,287.80 L367.19,287.80 L367.69,287.80 L368.19,287.80 L368.69,287.80 L369.19,287.80 L369.69,287.80 L370.19,287.80 L370.69,287.80 L371.19,287.80 L371.69,287.80 L372.19,287.80 L372.69,287.80 L373.19,287.80 L373.69,287.80 L374.19,287.80 L374.69,287.80 L375.19,287.80 L375.69,287.80 L376.19,287.80 L376.69,287.80 L376.70,287.80" fill="none" stroke="#1f3bff" stroke-width="2.0" stroke-linejoin="round" stroke-linecap="round"/>
<path d="M59.49,82.36 L63.39,89.16 L55.59,89.16Z" fill="#1f3bff"/>
<path d="M76.19,203.86 L80.09,210.66 L72.29,210.66Z" fill="#1f3bff"/>
<path d="M92.88,241.16 L96.78,247.96 L88.98,247.96Z" fill="#1f3bff"/>
<path d="M109.58,248.36 L113.48,255.16 L105.68,255.16Z" fill="#1f3bff"/>
<path d="M126.27,251.26 L130.17,258.06 L122.37,258.06Z" fill="#1f3bff"/>
<path d="M142.97,253.66 L146.87,260.46 L139.07,260.46Z" fill="#1f3bff"/>
<path d="M159.66,256.86 L163.56,263.66 L155.76,263.66Z" fill="#1f3bff"/>
<path d="M176.36,263.06 L180.26,269.86 L172.46,269.86Z" fill="#1f3bff"/>
<path d="M193.06,272.06 L196.96,278.86 L189.16,278.86Z" fill="#1f3bff"/>
<path d="M209.75,277.86 L213.65,284.66 L205.85,284.66Z" fill="#1f3bff"/>
<path d="M226.44,280.76 L230.34,287.56 L222.54,287.56Z" fill="#1f3bff"/>
<path d="M243.14,282.46 L247.04,289.26 L239.24,289.26Z" fill="#1f3bff"/>
<path d="M259.83,283.26 L263.73,290.06 L255.93,290.06Z" fill="#1f3bff"/>
<path d="M276.53,283.56 L280.43,290.36 L272.63,290.36Z" fill="#1f3bff"/>
<path d="M293.22,283.76 L297.12,290.56 L289.32,290.56Z" fill="#1f3bff"/>
<path d="M309.92,283.96 L313.82,290.76 L306.02,290.76Z" fill="#1f3bff"/>
<path d="M326.62,284.06 L330.51,290.86 L322.72,290.86Z" fill="#1f3bff"/>
<path d="M343.31,284.06 L347.21,290.86 L339.41,290.86Z" fill="#1f3bff"/>
<path d="M360.00,284.06 L363.90,290.86 L356.11,290.86Z" fill="#1f3bff"/>
<path d="M376.70,284.06 L380.60,290.86 L372.80,290.86Z" fill="#1f3bff"/>
<path d="M42.80,40.00 L43.30,41.31 L43.80,42.57 L44.30,43.77 L44.80,44.94 L45.30,46.06 L45.80,47.15 L46.30,48.21 L46.80,49.25 L47.30,50.28 L47.80,51.29 L48.30,52.30 L48.80,53.32 L49.30,54.34 L49.80,55.37 L50.30,56.42 L50.80,57.50 L51.30,58.59 L51.80,59.70 L52.30,60.83 L52.80,61.97 L53.30,63.13 L53.80,64.30 L54.30,65.47 L54.80,66.65 L55.30,67.83 L55.80,69.01 L56.30,70.16 L56.80,71.30 L57.30,72.41 L57.80,73.48 L58.30,74.50 L58.80,75.46 L59.30,76.37 L59.80,77.20 L60.30,77.97 L60.80,78.69 L61.30,79.40 L61.80,80.10 L62.30,80.84 L62.80,81.61 L63.30,82.46 L63.80,83.39 L64.30,84.43 L64.80,85.59 L65.30,86.85 L65.80,88.19 L66.30,89.60 L66.80,91.05 L67.30,92.54 L67.80,94.03 L68.30,95.53 L68.80,97.00 L69.30,98.44 L69.80,99.82 L70.30,101.15 L70.80,102.45 L71.30,103.73 L71.80,105.01 L72.30,106.30 L72.80,107.63 L73.30,109.02 L73.80,110.47 L74.30,112.01 L74.80,113.66 L75.30,115.41 L75.80,117.22 L76.30,118.98 L76.80,120.63 L77.30,122.20 L77.80,123.70 L78.30,125.17 L78.80,126.64 L79.30,128.14 L79.80,129.68 L80.30,131.30 L80.80,132.98 L81.30,134.68 L81.80,136.38 L82.30,138.04 L82.80,139.62 L83.30,141.12 L83.80,142.55 L84.30,143.91 L84.80,145.22 L85.30,146.50 L85.80,147.75 L86.30,148.99 L86.80,150.23 L87.30,151.47 L87.80,152.71 L88.30,153.96 L88.80,155.21 L89.30,156.49 L89.80,157.78 L90.30,159.08 L90.80,160.38 L91.30,161.65 L91.80,162.90 L92.30,164.09 L92.80,165.22 L93.30,166.26 L93.80,167.24 L94.30,168.15 L94.80,169.00 L95.30,169.82 L95.80,170.60 L96.30,171.35 L96.80,172.10 L97.30,172.85 L97.80,173.60 L98.30,174.37 L98.80,175.16 L99.30,175.94 L99.80,176.73 L100.30,177.50 L100.80,178.26 L101.30,178.98 L101.80,179.67 L102.30,180.32 L102.80,180.94 L103.30,181.53 L103.80,182.08 L104.30,182.62 L104.80,183.14 L105.30,183.64 L105.80,184.12 L106.30,184.60 L106.80,185.08 L107.30,185.55 L107.80,186.01 L108.30,186.45 L108.80,186.88 L109.30,187.28 L109.80,187.66 L110.30,188.02 L110.80,188.35 L111.30,188.66 L111.80,188.95 L112.30,189.24 L112.80,189.52 L113.30,189.80 L113.80,190.09 L114.30,190.37 L114.80,190.67 L115.30,190.97 L115.80,191.27 L116.30,191.57 L116.80,191.86 L117.30,192.15 L117.80,192.43 L118.30,192.70 L118.80,192.96 L119.30,193.19 L119.80,193.41 L120.30,193.62 L120.80,193.80 L121.30,193.98 L121.80,194.14 L122.30,194.29 L122.80,194.42 L123.30,194.55 L123.80,194.67 L124.30,194.79 L124.80,194.90 L125.30,195.00 L125.80,195.10 L126.30,195.21 L126.80,195.30 L127.30,195.40 L127.80,195.48 L128.30,195.55 L128.80,195.60 L129.30,195.62 L129.80,195.62 L130.30,195.58 L130.80,195.51 L131.30,195.40 L131.80,195.25 L132.30,195.07 L132.80,194.86 L133.30,194.62 L133.80,194.34 L134.30,194.03 L134.80,193.69 L135.30,193.32 L135.80,192.92 L136.30,192.49 L136.80,192.03 L137.30,191.54 L137.80,191.02 L138.30,190.46 L138.80,189.88 L139.30,189.25 L139.80,188.59 L140.30,187.88 L140.80,187.12 L141.30,186.32 L141.80,185.45 L142.30,184.53 L142.80,183.55 L143.30,182.50 L143.80,181.39 L144.30,180.21 L144.80,178.98 L145.30,177.70 L145.80,176.37 L146.30,175.00 L146.80,173.60 L147.30,172.15 L147.80,170.68 L148.30,169.19 L148.80,167.67 L149.30,166.14 L149.80,164.59 L150.30,163.04 L150.80,161.48 L151.30,159.93 L151.80,158.38 L152.30,156.84 L152.80,155.32 L153.30,153.82 L153.80,152.33 L154.30,150.88 L154.80,149.46 L155.30,148.07 L155.80,146.73 L156.30,145.43 L156.80,144.18 L157.30,142.99 L157.80,141.85 L158.30,140.78 L158.80,139.77 L159.30,138.83 L159.80,137.98 L160.30,137.20 L160.80,136.49 L161.30,135.87 L161.80,135.33 L162.30,134.87 L162.80,134.49 L163.30,134.18 L163.80,133.96 L164.30,133.82 L164.80,133.76 L165.30,133.79 L165.80,133.91 L166.30,134.15 L166.80,134.50 L167.30,134.99 L167.80,135.61 L168.30,136.38 L168.80,137.30 L169.30,138.36 L169.80,139.55 L170.30,140.85 L170.80,142.26 L171.30,143.76 L171.80,145.35 L172.30,147.01 L172.80,148.74 L173.30,150.52 L173.80,152.35 L174.30,154.21 L174.80,156.09 L175.30,157.99 L175.80,159.89 L176.30,161.77 L176.80,163.65 L177.30,165.50 L177.80,167.32 L178.30,169.13 L178.80,170.91 L179.30,172.67 L179.80,174.40 L180.30,176.11 L180.80,177.79 L181.30,179.43 L181.80,181.05 L182.30,182.64 L182.80,184.20 L183.30,185.72 L183.80,187.22 L184.30,188.67 L184.80,190.10 L185.30,191.48 L185.80,192.83 L186.30,194.14 L186.80,195.41 L187.30,196.64 L187.80,197.83 L188.30,198.98 L188.80,200.08 L189.30,201.14 L189.80,202.16 L190.30,203.13 L190.80,204.05 L191.30,204.92 L191.80,205.75 L192.30,206.53 L192.80,207.25 L193.30,207.92 L193.80,208.55 L194.30,209.12 L194.80,209.66 L195.30,210.16 L195.80,210.64 L196.30,211.08 L196.80,211.50 L197.30,211.91 L197.80,212.30 L198.30,212.69 L198.80,213.08 L199.30,213.46 L199.80,213.86 L200.30,214.26 L200.80,214.69 L201.30,215.13 L201.80,215.60 L202.30,216.10 L202.80,216.63 L203.30,217.18 L203.80,217.75 L204.30,218.34 L204.80,218.95 L205.30,219.57 L205.80,220.20 L206.30,220.84 L206.80,221.49 L207.30,222.13 L207.80,222.77 L208.30,223.41 L208.80,224.04 L209.30,224.66 L209.80,225.26 L210.30,225.85 L210.80,226.42 L211.30,226.98 L211.80,227.52 L212.30,228.05 L212.80,228.56 L213.30,229.06 L213.80,229.55 L214.30,230.02 L214.80,230.48 L215.30,230.93 L215.80,231.37 L216.30,231.80 L216.80,232.21 L217.30,232.62 L217.80,233.02 L218.30,233.41 L218.80,233.78 L219.30,234.15 L219.80,234.52 L220.30,234.87 L220.80,235.22 L221.30,235.56 L221.80,235.90 L222.30,236.23 L222.80,236.55 L223.30,236.87 L223.80,237.19 L224.30,237.50 L224.80,237.81 L225.30,238.11 L225.80,238.41 L226.30,238.71 L226.80,239.01 L227.30,239.31 L227.80,239.60 L228.30,239.90 L228.80,240.19 L229.30,240.48 L229.80,240.76 L230.30,241.04 L230.80,241.32 L231.30,241.60 L231.80,241.87 L232.30,242.14 L232.80,242.40 L233.30,242.66 L233.80,242.92 L234.30,243.17 L234.80,243.41 L235.30,243.66 L235.80,243.89 L236.30,244.12 L236.80,244.34 L237.30,244.56 L237.80,244.78 L238.30,244.98 L238.80,245.18 L239.30,245.37 L239.80,245.56 L240.30,245.74 L240.80,245.91 L241.30,246.07 L241.80,246.22 L242.30,246.37 L242.80,246.51 L243.30,246.64 L243.80,246.76 L244.30,246.88 L244.80,246.98 L245.30,247.08 L245.80,247.17 L246.30,247.26 L246.80,247.33 L247.30,247.41 L247.80,247.47 L248.30,247.54 L248.80,247.59 L249.30,247.65 L249.80,247.69 L250.30,247.74 L250.80,247.78 L251.30,247.82 L251.80,247.86 L252.30,247.89 L252.80,247.92 L253.30,247.95 L253.80,247.98 L254.30,248.01 L254.80,248.04 L255.30,248.07 L255.80,248.10 L256.30,248.13 L256.80,248.16 L257.30,248.19 L257.80,248.23 L258.30,248.27 L258.80,248.31 L259.30,248.35 L259.80,248.40 L260.30,248.45 L260.80,248.50 L261.30,248.56 L261.80,248.62 L262.30,248.69 L262.80,248.76 L263.30,248.83 L263.80,248.91 L264.30,248.99 L264.80,249.08 L265.30,249.17 L265.80,249.26 L266.30,249.36 L266.80,249.46 L267.30,249.56 L267.80,249.67 L268.30,249.78 L268.80,249.90 L269.30,250.02 L269.80,250.15 L270.30,250.27 L270.80,250.41 L271.30,250.54 L271.80,250.68 L272.30,250.83 L272.80,250.97 L273.30,251.13 L273.80,251.28 L274.30,251.44 L274.80,251.60 L275.30,251.77 L275.80,251.94 L276.30,252.12 L276.80,252.30 L277.30,252.48 L277.80,252.67 L278.30,252.86 L278.80,253.05 L279.30,253.25 L279.80,253.45 L280.30,253.65 L280.80,253.86 L281.30,254.07 L281.80,254.28 L282.30,254.50 L282.80,254.72 L283.30,254.94 L283.80,255.16 L284.30,255.39 L284.80,255.62 L285.30,255.85 L285.80,256.08 L286.30,256.31 L286.80,256.55 L287.30,256.79 L287.80,257.03 L288.30,257.27 L288.80,257.51 L289.30,257.75 L289.80,258.00 L290.30,258.24 L290.80,258.49 L291.30,258.74 L291.80,258.99 L292.30,259.24 L292.80,259.49 L293.30,259.74 L293.80,259.99 L294.30,260.24 L294.80,260.49 L295.30,260.74 L295.80,260.99 L296.30,261.25 L296.80,261.50 L297.30,261.75 L297.80,262.00 L298.30,262.25 L298.80,262.51 L299.30,262.76 L299.80,263.01 L300.30,263.26 L300.80,263.51 L301.30,263.76 L301.80,264.01 L302.30,264.27 L302.80,264.52 L303.30,264.76 L303.80,265.01 L304.30,265.26 L304.80,265.51 L305.30,265.76 L305.80,266.00 L306.30,266.25 L306.80,266.49 L307.30,266.74 L307.80,266.98 L308.30,267.22 L308.80,267.46 L309.30,267.70 L309.80,267.94 L310.30,268.18 L310.80,268.42 L311.30,268.65 L311.80,268.89 L312.30,269.12 L312.80,269.35 L313.30,269.58 L313.80,269.81 L314.30,270.04 L314.80,270.27 L315.30,270.49 L315.80,270.72 L316.30,270.94 L316.80,271.16 L317.30,271.38 L317.80,271.59 L318.30,271.81 L318.80,272.02 L319.30,272.23 L319.80,272.44 L320.30,272.65 L320.80,272.86 L321.30,273.06 L321.80,273.26 L322.30,273.46 L322.80,273.66 L323.30,273.86 L323.80,274.05 L324.30,274.24 L324.80,274.43 L325.30,274.62 L325.80,274.80 L326.30,274.99 L326.80,275.17 L327.30,275.34 L327.80,275.52 L328.30,275.69 L328.80,275.86 L329.30,276.03 L329.80,276.20 L330.30,276.36 L330.80,276.52 L331.30,276.68 L331.80,276.84 L332.30,277.00 L332.80,277.15 L333.30,277.30 L333.80,277.45 L334.30,277.60 L334.80,277.75 L335.30,277.89 L335.80,278.03 L336.30,278.17 L336.80,278.31 L337.30,278.45 L337.80,278.59 L338.30,278.72 L338.80,278.86 L339.30,278.99 L339.80,279.12 L340.30,279.25 L340.80,279.38 L341.30,279.50 L341.80,279.63 L342.30,279.75 L342.80,279.88 L343.30,280.00 L343.80,280.12 L344.30,280.24 L344.80,280.36 L345.30,280.47 L345.80,280.59 L346.30,280.71 L346.80,280.82 L347.30,280.93 L347.80,281.04 L348.30,281.15 L348.80,281.26 L349.30,281.37 L349.80,281.48 L350.30,281.58 L350.80,281.68 L351.30,281.78 L351.80,281.88 L352.30,281.98 L352.80,282.08 L353.30,282.18 L353.80,282.27 L354.30,282.36 L354.80,282.45 L355.30,282.54 L355.80,282.63 L356.30,282.72 L356.80,282.80 L357.30,282.88 L357.80,282.97 L358.30,283.04 L358.80,283.12 L359.30,283.20 L359.80,283.27 L360.30,283.34 L360.80,283.41 L361.30,283.48 L361.80,283.55 L362.30,283.61 L362.80,283.67 L363.30,283.73 L363.80,283.79 L364.30,283.85 L364.80,283.90 L365.30,283.95 L365.80,284.00 L366.30,284.05 L366.80,284.09 L367.30,284.14 L367.80,284.18 L368.30,284.21 L368.80,284.25 L369.30,284.28 L369.80,284.32 L370.30,284.35 L370.80,284.37 L371.30,284.40 L371.80,284.42 L372.30,284.44 L372.80,284.45 L373.30,284.47 L373.80,284.48 L374.30,284.49 L374.80,284.50 L375.30,284.50 L375.80,284.50 L376.30,284.50 L376.70,284.50" fill="none" stroke="#000000" stroke-width="2.0" stroke-linejoin="round" stroke-linecap="round"/>
<path d="M42.80,44.14 L46.70,37.34 L38.90,37.34Z" fill="#000000"/>
<path d="M59.49,80.84 L63.39,74.04 L55.59,74.04Z" fill="#000000"/>
<path d="M76.19,122.74 L80.09,115.94 L72.29,115.94Z" fill="#000000"/>
<path d="M92.88,169.54 L96.78,162.74 L88.98,162.74Z" fill="#000000"/>
<path d="M109.58,192.14 L113.48,185.34 L105.68,185.34Z" fill="#000000"/>
<path d="M126.27,201.24 L130.17,194.44 L122.37,194.44Z" fill="#000000"/>
<path d="M142.97,187.34 L146.87,180.54 L139.07,180.54Z" fill="#000000"/>
<path d="M159.66,142.34 L163.56,135.54 L155.76,135.54Z" fill="#000000"/>
<path d="M176.36,166.14 L180.26,159.34 L172.46,159.34Z" fill="#000000"/>
<path d="M193.06,211.74 L196.96,204.94 L189.16,204.94Z" fill="#000000"/>
<path d="M209.75,229.34 L213.65,222.54 L205.85,222.54Z" fill="#000000"/>
<path d="M226.44,242.94 L230.34,236.14 L222.54,236.14Z" fill="#000000"/>
<path d="M243.14,250.74 L247.04,243.94 L239.24,243.94Z" fill="#000000"/>
<path d="M259.83,252.54 L263.73,245.74 L255.93,245.74Z" fill="#000000"/>
<path d="M276.53,257.44 L280.43,250.64 L272.63,250.64Z" fill="#000000"/>
<path d="M293.22,263.84 L297.12,257.04 L289.32,257.04Z" fill="#000000"/>
<path d="M309.92,272.14 L313.82,265.34 L306.02,265.34Z" fill="#000000"/>
<path d="M326.62,279.24 L330.51,272.44 L322.72,272.44Z" fill="#000000"/>
<path d="M343.31,284.14 L347.21,277.34 L339.41,277.34Z" fill="#000000"/>
<path d="M360.00,287.44 L363.90,280.64 L356.11,280.64Z" fill="#000000"/>
<path d="M376.70,288.64 L380.60,281.84 L372.80,281.84Z" fill="#000000"/>
</g>
<line x1="68.6" y1="1" x2="68.6" y2="12" stroke="#000000" stroke-width="1.4"/><path d="M65.6,10.8 L71.6,10.8 L68.6,19.5Z" fill="#000000"/>
<line x1="124.8" y1="1" x2="124.8" y2="12" stroke="#1f3bff" stroke-width="1.4"/><path d="M121.8,10.8 L127.8,10.8 L124.8,19.5Z" fill="#1f3bff"/>
<line x1="160.5" y1="1" x2="160.5" y2="12" stroke="#1f3bff" stroke-width="1.4"/><path d="M157.5,10.8 L163.5,10.8 L160.5,19.5Z" fill="#1f3bff"/>
<line x1="162.4" y1="1" x2="162.4" y2="12" stroke="#ff0000" stroke-width="1.4"/><path d="M159.4,10.8 L165.4,10.8 L162.4,19.5Z" fill="#ff0000"/>
<line x1="167.1" y1="1" x2="167.1" y2="12" stroke="#b00af5" stroke-width="1.4"/><path d="M164.1,10.8 L170.1,10.8 L167.1,19.5Z" fill="#b00af5"/>
<line x1="164.4" y1="1" x2="164.4" y2="12" stroke="#000000" stroke-width="1.4"/><path d="M161.4,10.8 L167.4,10.8 L164.4,19.5Z" fill="#000000"/>
<line x1="273.4" y1="1" x2="273.4" y2="12" stroke="#000000" stroke-width="1.4"/><path d="M270.4,10.8 L276.4,10.8 L273.4,19.5Z" fill="#000000"/>
<line x1="36.3" y1="288.40" x2="42.3" y2="288.40" stroke="#000" stroke-width="1.2"/>
<line x1="39.3" y1="271.59" x2="42.3" y2="271.59" stroke="#000" stroke-width="1.2"/>
<line x1="36.3" y1="254.79" x2="42.3" y2="254.79" stroke="#000" stroke-width="1.2"/>
<line x1="39.3" y1="237.98" x2="42.3" y2="237.98" stroke="#000" stroke-width="1.2"/>
<line x1="36.3" y1="221.17" x2="42.3" y2="221.17" stroke="#000" stroke-width="1.2"/>
<line x1="39.3" y1="204.37" x2="42.3" y2="204.37" stroke="#000" stroke-width="1.2"/>
<line x1="36.3" y1="187.56" x2="42.3" y2="187.56" stroke="#000" stroke-width="1.2"/>
<line x1="39.3" y1="170.76" x2="42.3" y2="170.76" stroke="#000" stroke-width="1.2"/>
<line x1="36.3" y1="153.95" x2="42.3" y2="153.95" stroke="#000" stroke-width="1.2"/>
<line x1="39.3" y1="137.14" x2="42.3" y2="137.14" stroke="#000" stroke-width="1.2"/>
<line x1="36.3" y1="120.34" x2="42.3" y2="120.34" stroke="#000" stroke-width="1.2"/>
<line x1="39.3" y1="103.53" x2="42.3" y2="103.53" stroke="#000" stroke-width="1.2"/>
<line x1="36.3" y1="86.72" x2="42.3" y2="86.72" stroke="#000" stroke-width="1.2"/>
<line x1="39.3" y1="69.92" x2="42.3" y2="69.92" stroke="#000" stroke-width="1.2"/>
<line x1="36.3" y1="53.11" x2="42.3" y2="53.11" stroke="#000" stroke-width="1.2"/>
<line x1="39.3" y1="36.31" x2="42.3" y2="36.31" stroke="#000" stroke-width="1.2"/>
<line x1="36.3" y1="19.50" x2="42.3" y2="19.50" stroke="#000" stroke-width="1.2"/>
<line x1="42.30" y1="288.4" x2="42.30" y2="294.2" stroke="#000" stroke-width="1.2"/>
<line x1="75.69" y1="288.4" x2="75.69" y2="291.59999999999997" stroke="#000" stroke-width="1.2"/>
<line x1="109.08" y1="288.4" x2="109.08" y2="294.2" stroke="#000" stroke-width="1.2"/>
<line x1="142.47" y1="288.4" x2="142.47" y2="291.59999999999997" stroke="#000" stroke-width="1.2"/>
<line x1="175.86" y1="288.4" x2="175.86" y2="294.2" stroke="#000" stroke-width="1.2"/>
<line x1="209.25" y1="288.4" x2="209.25" y2="291.59999999999997" stroke="#000" stroke-width="1.2"/>
<line x1="242.64" y1="288.4" x2="242.64" y2="294.2" stroke="#000" stroke-width="1.2"/>
<line x1="276.03" y1="288.4" x2="276.03" y2="291.59999999999997" stroke="#000" stroke-width="1.2"/>
<line x1="309.42" y1="288.4" x2="309.42" y2="294.2" stroke="#000" stroke-width="1.2"/>
<line x1="342.81" y1="288.4" x2="342.81" y2="291.59999999999997" stroke="#000" stroke-width="1.2"/>
<line x1="376.20" y1="288.4" x2="376.20" y2="294.2" stroke="#000" stroke-width="1.2"/>
<rect x="290.5" y="25.5" width="76.5" height="83" fill="#fff" stroke="#555" stroke-width="1"/>
<line x1="291.5" y1="35.40" x2="324.5" y2="35.40" stroke="#1f3bff" stroke-width="2.0"/>
<path d="M308.00,31.66 L311.90,38.46 L304.10,38.46Z" fill="#1f3bff"/>
<line x1="291.5" y1="56.50" x2="324.5" y2="56.50" stroke="#ff0000" stroke-width="2.0"/>
<circle cx="308.00" cy="56.50" r="3.25" fill="#ff0000"/>
<line x1="291.5" y1="77.60" x2="324.5" y2="77.60" stroke="#b00af5" stroke-width="2.0"/>
<rect x="305.00" y="74.60" width="6" height="6" fill="#b00af5"/>
<line x1="291.5" y1="98.70" x2="324.5" y2="98.70" stroke="#000000" stroke-width="2.0"/>
<path d="M308.00,102.44 L311.90,95.64 L304.10,95.64Z" fill="#000000"/>
</svg>
<div class="t">
<div class="yl" style="top:281.90px">0.0</div>
<div class="yl" style="top:248.29px">0.1</div>
<div class="yl" style="top:214.67px">0.2</div>
<div class="yl" style="top:181.06px">0.3</div>
<div class="yl" style="top:147.45px">0.4</div>
<div class="yl" style="top:113.84px">0.5</div>
<div class="yl" style="top:80.22px">0.6</div>
<div class="yl" style="top:46.61px">0.7</div>
<div class="yl" style="top:13.00px">0.8</div>
<div class="xl" style="left:22.30px">300</div>
<div class="xl" style="left:89.08px">400</div>
<div class="xl" style="left:155.86px">500</div>
<div class="xl" style="left:222.64px">600</div>
<div class="xl" style="left:289.42px">700</div>
<div class="xl" style="left:356.20px">800</div>
<div class="lg" style="top:28px">Ag<sub>A</sub></div>
<div class="lg" style="top:49px">Ag<sub>B</sub></div>
<div class="lg" style="top:70px">Ag<sub>C</sub></div>
<div class="lg" style="top:91px">Crude</div>
<div id="xt">Wavelength (nm)</div>
<div id="yt">Absorbance</div>
</div>
</body></html>
